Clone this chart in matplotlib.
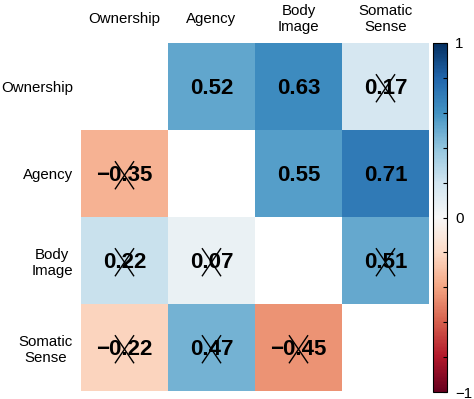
import numpy as np
import matplotlib
matplotlib.use("Agg")
import matplotlib.pyplot as plt

plt.rcParams['font.family'] = ['Liberation Sans', 'DejaVu Sans']

labels = ["Ownership", "Agency", "Body\nImage", "Somatic\nSense"]

# correlation matrix, diagonal left blank
corr = np.array([
    [np.nan, 0.52, 0.63, 0.17],
    [-0.35, np.nan, 0.55, 0.71],
    [0.22, 0.07, np.nan, 0.51],
    [-0.22, 0.47, -0.45, np.nan],
])

# cells crossed out (not significant)
crossed = np.array([
    [0, 0, 0, 1],
    [1, 0, 0, 0],
    [1, 1, 0, 1],
    [1, 1, 1, 0],
], dtype=bool)

cbar_ticks = np.round(np.arange(-1, 1.01, 0.2), 1)

fig = plt.figure(figsize=(4.74, 3.99), dpi=100)
ax = fig.add_axes([81 / 474, 8 / 399, 348 / 474, 348 / 399])

im = ax.imshow(corr, cmap="RdBu", vmin=-1, vmax=1, aspect="auto",
               interpolation="nearest")

n = corr.shape[0]
for i in range(n):
    for j in range(n):
        if np.isnan(corr[i, j]):
            continue
        ax.text(j, i + 0.09, f"{corr[i, j]:.2f}".replace("-", "\u2212"),
                ha="center", va="baseline", fontsize=16, fontweight="bold",
                color="black")
        if crossed[i, j]:
            dx, dy = 0.105, 0.155
            ax.plot([j - dx, j + dx], [i + 0.02 - dy, i + 0.02 + dy],
                    color="black", lw=1.0)
            ax.plot([j - dx, j + dx], [i + 0.02 + dy, i + 0.02 - dy],
                    color="black", lw=1.0)

ax.set_xlim(-0.5, n - 0.5)
ax.set_ylim(n - 0.5, -0.5)
ax.set_xticks(range(n))
ax.set_xticklabels(labels, fontsize=10.8, va="center")
ax.xaxis.tick_top()
ax.set_yticks(range(n))
ax.set_yticklabels(labels, fontsize=10.8, ha="right", multialignment="center")
ax.tick_params(length=0)
ax.tick_params(axis="y", pad=5.8)
ax.tick_params(axis="x", pad=17)
for s in ax.spines.values():
    s.set_visible(False)

cax = fig.add_axes([433 / 474, 7 / 399, 14 / 474, 349 / 399])
cb = fig.colorbar(im, cax=cax)
cb.set_ticks(cbar_ticks)
cb.set_ticklabels(["\u22121" if t == -1 else ("0" if abs(t) < 1e-9 else ("1" if t == 1 else ""))
                   for t in cbar_ticks])
cax.tick_params(direction="in", length=3, labelsize=10.8, width=0.8, pad=6)
cb.outline.set_linewidth(0.8)

plt.savefig("out.png", dpi=100)
